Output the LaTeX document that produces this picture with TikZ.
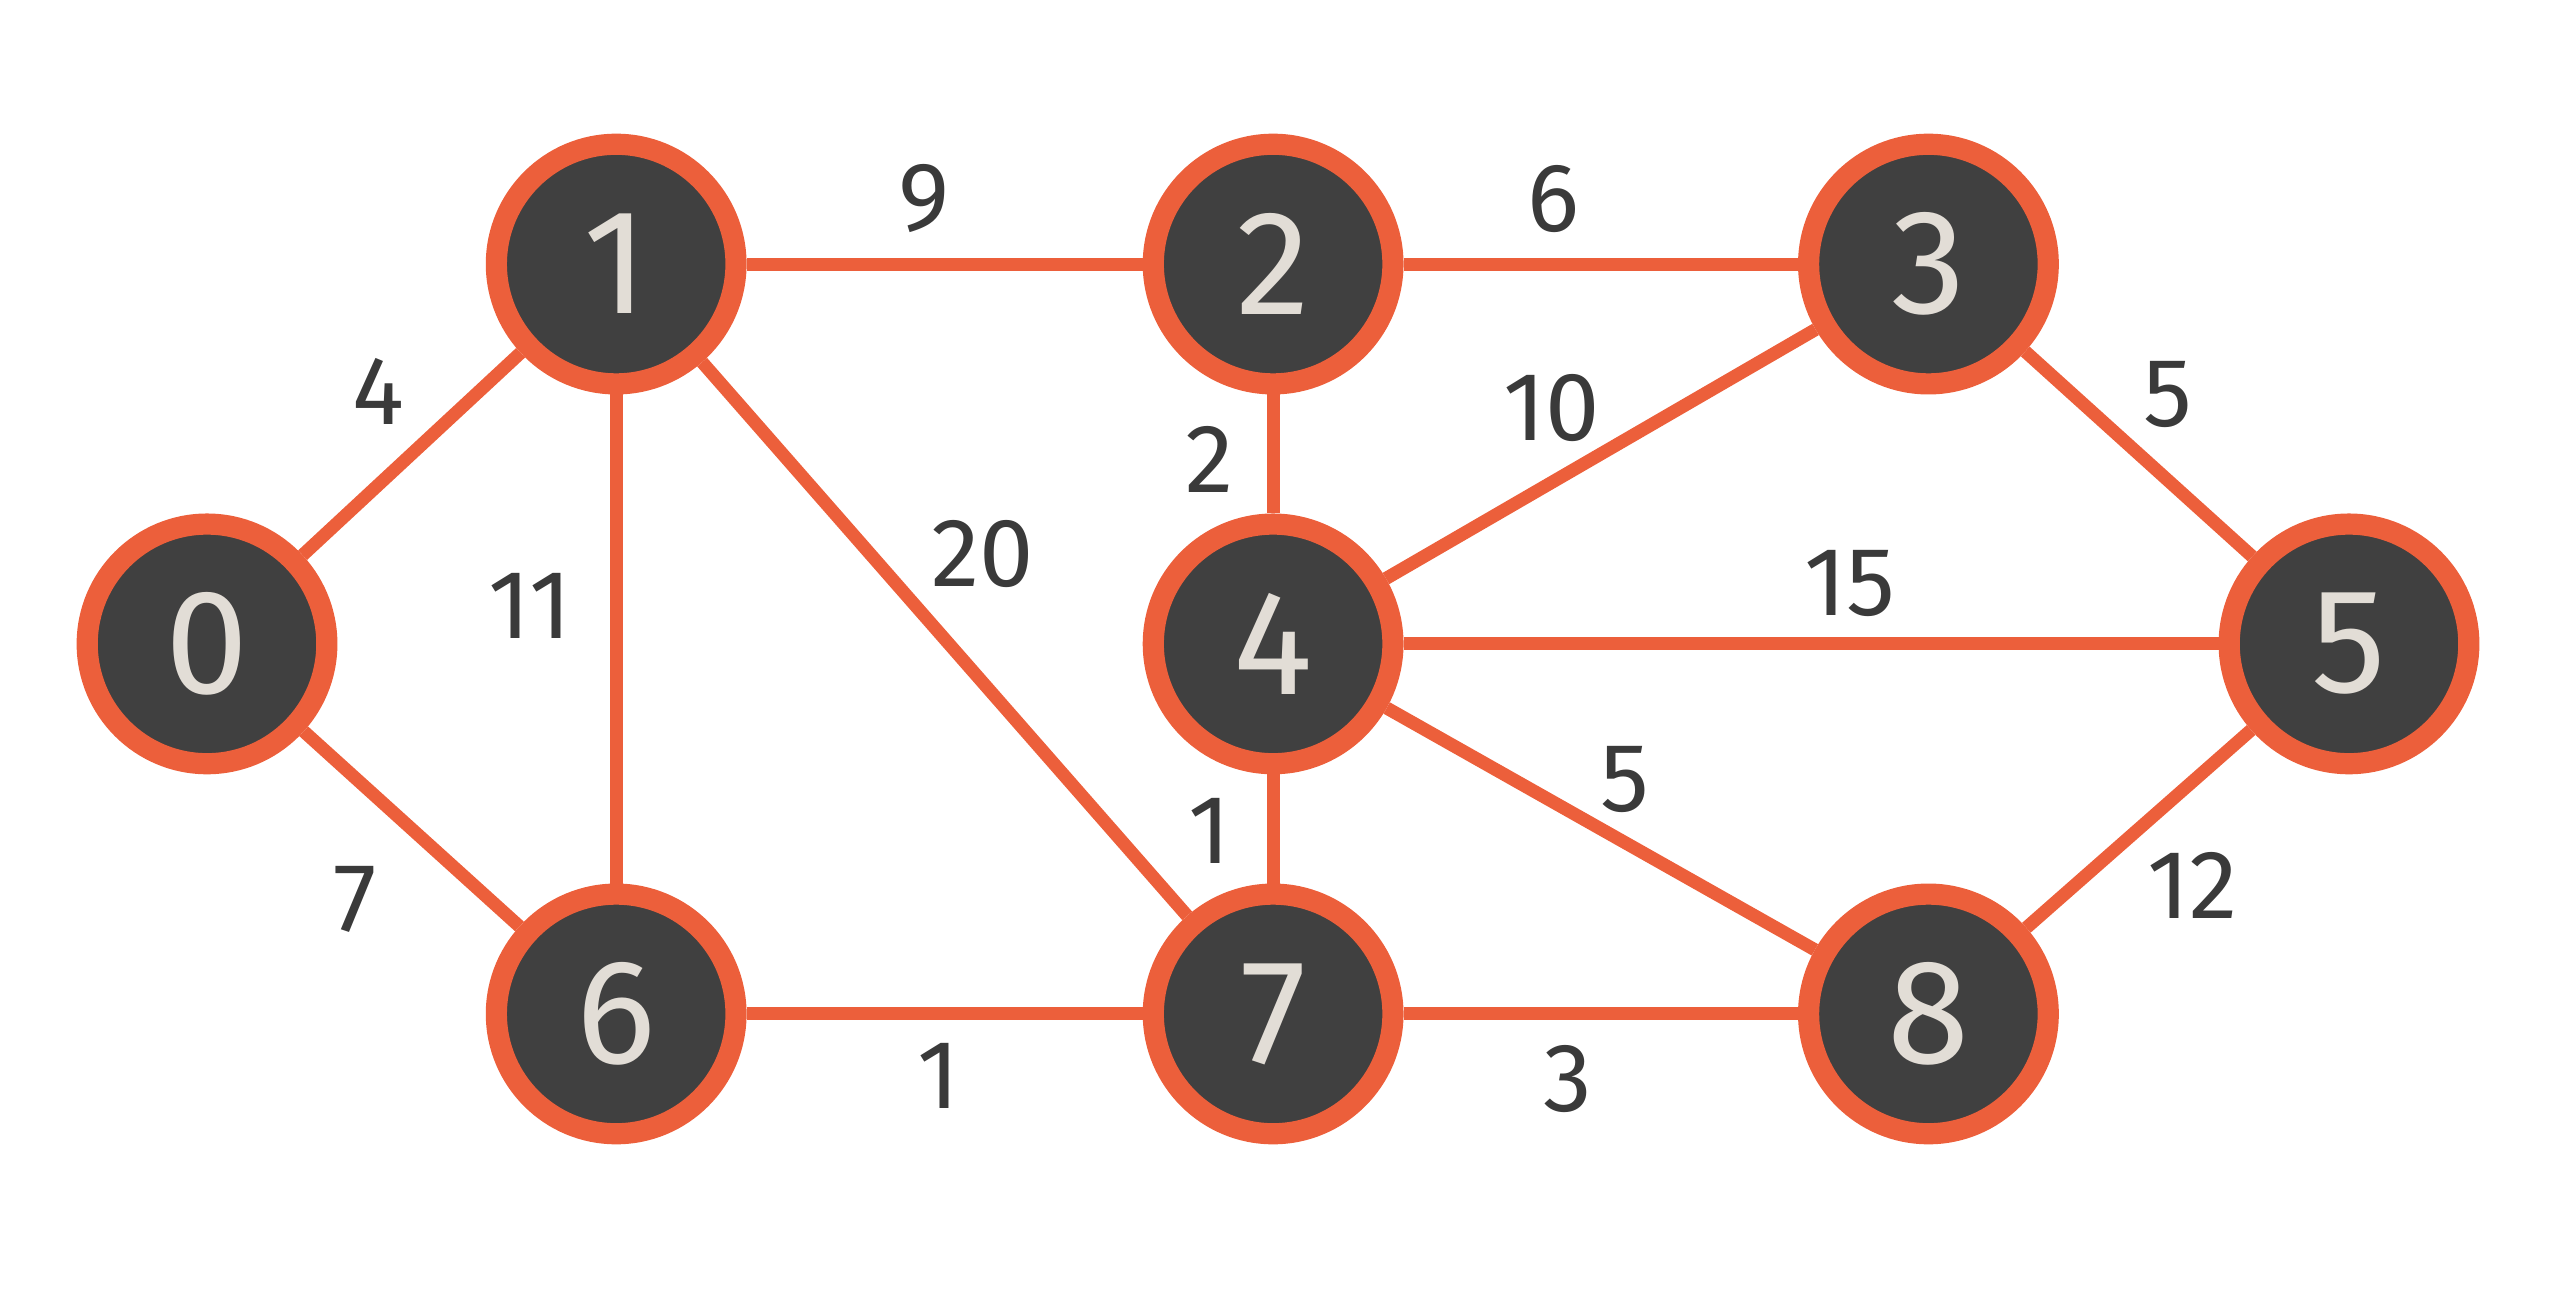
\documentclass[tikz,border=0pt]{standalone}
\usepackage{fontspec}
\setmainfont{Fira Sans}
\definecolor{edgeorange}{HTML}{EC5F3B}
\definecolor{nodegrey}{HTML}{404040}
\definecolor{digitcream}{HTML}{E2DDD6}
\definecolor{labelgrey}{HTML}{3A3A3A}

\begin{document}
\begin{tikzpicture}
\useasboundingbox (0,0) rectangle (15.68,8.05);
\begin{scope}[every node/.style={circle,draw=edgeorange,line width=0.13cm,fill=nodegrey,
              minimum size=1.47cm,text=digitcream,font=\fontsize{26}{26}\selectfont}]
    \node (n0) at (1.27,4.10) {0};
    \node (n1) at (3.78,6.43) {1};
    \node (n2) at (7.81,6.43) {2};
    \node (n3) at (11.83,6.43) {3};
    \node (n4) at (7.81,4.10) {4};
    \node (n5) at (14.41,4.10) {5};
    \node (n6) at (3.78,1.83) {6};
    \node (n7) at (7.81,1.83) {7};
    \node (n8) at (11.83,1.83) {8};
\end{scope}

\begin{scope}[on background layer/.style={},
              every path/.style={draw=edgeorange,line width=0.08cm}]
    \draw (n0) -- (n1);
    \draw (n0) -- (n6);
    \draw (n1) -- (n2);
    \draw (n1) -- (n6);
    \draw (n1) -- (n7);
    \draw (n2) -- (n3);
    \draw (n2) -- (n4);
    \draw (n3) -- (n4);
    \draw (n3) -- (n5);
    \draw (n4) -- (n5);
    \draw (n4) -- (n7);
    \draw (n4) -- (n8);
    \draw (n5) -- (n8);
    \draw (n6) -- (n7);
    \draw (n7) -- (n8);
\end{scope}

\begin{scope}[every node/.style={text=labelgrey,font=\fontsize{17}{17}\selectfont}]
    \node (w01) at (2.32,5.65) {4};
    \node (w12) at (5.67,6.83) {9};
    \node (w23) at (9.53,6.83) {6};
    \node (w16) at (3.25,4.33) {11};
    \node (w17) at (6.03,4.65) {20};
    \node (w24) at (7.42,5.23) {2};
    \node (w34) at (9.52,5.55) {10};
    \node (w35) at (13.30,5.63) {5};
    \node (w45) at (11.35,4.47) {15};
    \node (w48) at (9.97,3.27) {5};
    \node (w47) at (7.42,2.95) {1};
    \node (w06) at (2.18,2.53) {7};
    \node (w58) at (13.45,2.62) {12};
    \node (w67) at (5.76,1.45) {1};
    \node (w78) at (9.62,1.43) {3};
\end{scope}
\end{tikzpicture}
\end{document}
